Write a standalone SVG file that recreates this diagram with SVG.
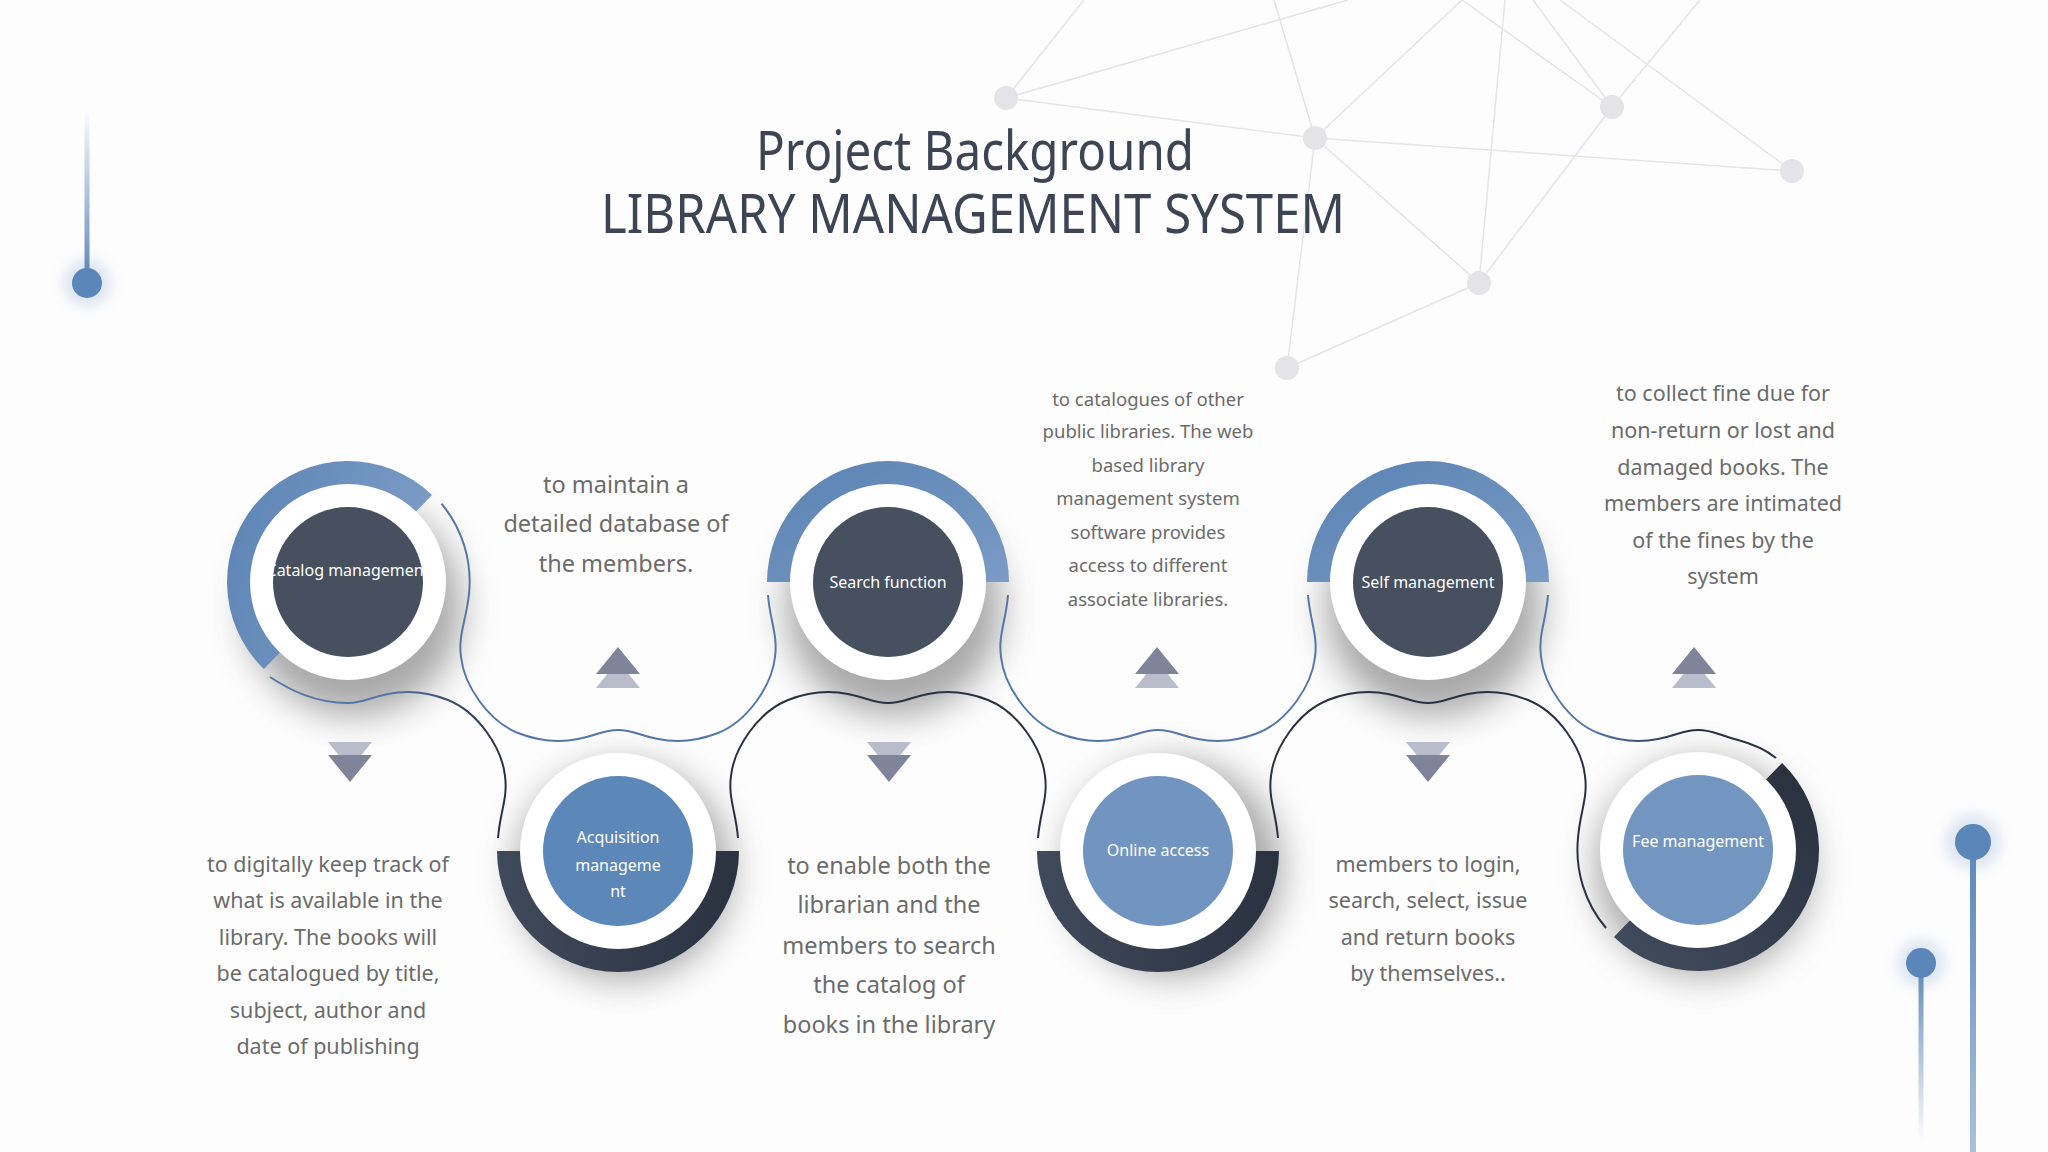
<svg xmlns="http://www.w3.org/2000/svg" width="2048" height="1152" viewBox="0 0 2048 1152">
<defs>
<style>
.net{stroke:#e4e4e9;stroke-width:1.5;fill:none}
.dot{fill:#e3e3e8}
.title{font-family:"Noto Sans","Open Sans",sans-serif;fill:#3d4555;font-size:55px;text-anchor:middle}
.desc{font-family:"Noto Sans","Open Sans",sans-serif;fill:#6b6b6b;text-anchor:middle}
.lbl{font-family:"Noto Sans","Open Sans",sans-serif;fill:#ffffff;font-size:16px;text-anchor:middle}
.inner-dark{fill:#46505f}
.white{fill:#ffffff}
.sh{fill:#707070;opacity:0.6;filter:url(#blur)}
.bl{stroke:#5577a8;stroke-width:2;fill:none}
.dk{stroke:#2b3140;stroke-width:2;fill:none}
.tri-d{fill:#80849a}
.tri-l{fill:#b9bdcb}
</style>
<filter id="blur" x="-50%" y="-50%" width="200%" height="200%"><feGaussianBlur stdDeviation="18"/></filter>
<filter id="glow" x="-100%" y="-100%" width="300%" height="300%"><feGaussianBlur stdDeviation="7"/></filter>
<linearGradient id="gBlue" x1="0" y1="0" x2="1" y2="1"><stop offset="0" stop-color="#5a82b4"/><stop offset="1" stop-color="#7a9bc4"/></linearGradient>
<linearGradient id="gDark" x1="0" y1="0" x2="1" y2="0"><stop offset="0" stop-color="#3f4a5b"/><stop offset="1" stop-color="#2a3240"/></linearGradient>
<linearGradient id="gD1" gradientUnits="userSpaceOnUse" x1="270" y1="0" x2="500" y2="0"><stop offset="0.5" stop-color="#5577a8"/><stop offset="1" stop-color="#2b3140"/></linearGradient>
<linearGradient id="gB3" gradientUnits="userSpaceOnUse" x1="1548" y1="0" x2="1776" y2="0"><stop offset="0.2" stop-color="#5577a8"/><stop offset="0.6" stop-color="#2b3140"/></linearGradient>
<linearGradient id="pinL" gradientUnits="userSpaceOnUse" x1="0" y1="110" x2="0" y2="280"><stop offset="0" stop-color="#5b86b9" stop-opacity="0"/><stop offset="1" stop-color="#5b86b9"/></linearGradient>
<linearGradient id="pinR1" gradientUnits="userSpaceOnUse" x1="0" y1="842" x2="0" y2="1152"><stop offset="0" stop-color="#5b86b9"/><stop offset="1" stop-color="#a9c1df"/></linearGradient>
<linearGradient id="pinR2" gradientUnits="userSpaceOnUse" x1="0" y1="963" x2="0" y2="1140"><stop offset="0" stop-color="#5b86b9"/><stop offset="1" stop-color="#5b86b9" stop-opacity="0"/></linearGradient>
</defs>

<rect width="2048" height="1152" fill="#fdfdfe"/>

<g id="network">
<line class="net" x1="1006" y1="98" x2="1084" y2="0"/>
<line class="net" x1="1006" y1="98" x2="1348" y2="0"/>
<line class="net" x1="1006" y1="98" x2="1315" y2="138"/>
<line class="net" x1="1315" y1="138" x2="1274" y2="0"/>
<line class="net" x1="1315" y1="138" x2="1462" y2="0"/>
<line class="net" x1="1315" y1="138" x2="1792" y2="171"/>
<line class="net" x1="1315" y1="138" x2="1479" y2="283"/>
<line class="net" x1="1315" y1="138" x2="1287" y2="368"/>
<line class="net" x1="1479" y1="283" x2="1505" y2="0"/>
<line class="net" x1="1479" y1="283" x2="1612" y2="107"/>
<line class="net" x1="1479" y1="283" x2="1287" y2="368"/>
<line class="net" x1="1612" y1="107" x2="1462" y2="0"/>
<line class="net" x1="1612" y1="107" x2="1533" y2="0"/>
<line class="net" x1="1612" y1="107" x2="1700" y2="0"/>
<line class="net" x1="1792" y1="171" x2="1560" y2="0"/>
<circle class="dot" cx="1006" cy="98" r="12"/>
<circle class="dot" cx="1315" cy="138" r="12"/>
<circle class="dot" cx="1612" cy="107" r="12"/>
<circle class="dot" cx="1792" cy="171" r="12"/>
<circle class="dot" cx="1479" cy="283" r="12"/>
<circle class="dot" cx="1287" cy="368" r="12"/>
</g>

<g id="pins">
<circle cx="87" cy="283" r="24" fill="#c7d5e8" opacity="0.6" filter="url(#glow)"/>
<line x1="87" y1="110" x2="87" y2="283" stroke="url(#pinL)" stroke-width="5"/>
<circle cx="87" cy="283" r="15" fill="#5b86b9"/>
<circle cx="1973" cy="842" r="28" fill="#c7d5e8" opacity="0.6" filter="url(#glow)"/>
<line x1="1973" y1="842" x2="1973" y2="1152" stroke="url(#pinR1)" stroke-width="6"/>
<circle cx="1973" cy="842" r="18" fill="#5b86b9"/>
<circle cx="1921" cy="963" r="24" fill="#c7d5e8" opacity="0.6" filter="url(#glow)"/>
<line x1="1921" y1="963" x2="1921" y2="1140" stroke="url(#pinR2)" stroke-width="5"/>
<circle cx="1921" cy="963" r="15" fill="#5b86b9"/>
</g>

<g id="title">
<text class="title" x="975" y="170" textLength="438" lengthAdjust="spacingAndGlyphs">Project Background</text>
<text class="title" x="973" y="233" textLength="744" lengthAdjust="spacingAndGlyphs">LIBRARY MANAGEMENT SYSTEM</text>
</g>

<g id="node-catalog">
<circle class="sh" cx="354" cy="608" r="108"/>
<path d="M227 582 A121 121 0 0 1 469 582 Z" fill="url(#gBlue)" transform="rotate(-46 348 582)"/>
<circle class="white" cx="348" cy="582" r="98"/>
<circle class="inner-dark" cx="348" cy="582" r="75"/>
<text class="lbl" x="348" y="576">Catalog management</text>
</g>

<g id="node-acquisition">
<circle class="sh" cx="624" cy="872" r="108"/>
<path d="M497 851 A121 121 0 0 0 739 851 Z" fill="url(#gDark)"/>
<circle class="white" cx="618" cy="851" r="98"/>
<circle cx="618" cy="851" r="75" fill="#5b87b9"/>
<text class="lbl" x="618" y="843">Acquisition</text>
<text class="lbl" x="618" y="871">manageme</text>
<text class="lbl" x="618" y="897">nt</text>
</g>

<g id="node-search">
<circle class="sh" cx="894" cy="608" r="108"/>
<path d="M767 582 A121 121 0 0 1 1009 582 Z" fill="url(#gBlue)"/>
<circle class="white" cx="888" cy="582" r="98"/>
<circle class="inner-dark" cx="888" cy="582" r="75"/>
<text class="lbl" x="888" y="588">Search function</text>
</g>

<g id="node-online">
<circle class="sh" cx="1174" cy="868" r="108"/>
<path d="M1037 851 A121 121 0 0 0 1279 851 Z" fill="url(#gDark)"/>
<circle class="white" cx="1158" cy="851" r="98"/>
<circle cx="1158" cy="851" r="75" fill="#7195c0"/>
<text class="lbl" x="1158" y="856">Online access</text>
</g>

<g id="node-self">
<circle class="sh" cx="1434" cy="608" r="108"/>
<path d="M1307 582 A121 121 0 0 1 1549 582 Z" fill="url(#gBlue)"/>
<circle class="white" cx="1428" cy="582" r="98"/>
<circle class="inner-dark" cx="1428" cy="582" r="75"/>
<text class="lbl" x="1428" y="588">Self management</text>
</g>

<g id="node-fee">
<circle class="sh" cx="1704" cy="868" r="108"/>
<path d="M1577 850 A121 121 0 0 0 1819 850 Z" fill="url(#gDark)" transform="rotate(-46 1698 850)"/>
<circle class="white" cx="1698" cy="850" r="98"/>
<circle cx="1698" cy="850" r="75" fill="#7396c1"/>
<text class="lbl" x="1698" y="847">Fee management</text>
</g>

<g id="connectors">
<path class="bl" d="M441.5 503.6 A122 122 0 0 1 469 594 C466 621 458 635 461 657 C464 685 488 721 518 733 C536 740 558 743 578 739 C598 735 603 730 618 730 C633 730 638 735 658 739 C678 743 700 740 718 733 C748 721 772 685 775 657 C778 635 770 621 768 595"/>
<path class="bl" d="M1008 595 C1006 621 998 635 1001 657 C1004 685 1028 721 1058 733 C1076 740 1098 743 1118 739 C1138 735 1143 730 1158 730 C1173 730 1178 735 1198 739 C1218 743 1240 740 1258 733 C1288 721 1312 685 1315 657 C1318 635 1310 621 1308 595"/>
<path d="M1548 595 C1546 621 1538 635 1541 657 C1544 685 1568 721 1598 733 C1616 740 1638 743 1658 739 C1678 735 1683 730 1698 730 C1713 730 1718 735 1738 740 C1753 744 1766 750 1776 758" stroke="url(#gB3)" stroke-width="2" fill="none"/>
<path d="M270 677 C290 690 315 703 348 703 C363 703 368 698 388 694 C408 690 430 693 448 700 C478 712 502 748 505 776 C508 798 500 812 498 838" stroke="url(#gD1)" stroke-width="2" fill="none"/>
<path class="dk" d="M738 838 C736 812 728 798 731 776 C734 748 758 712 788 700 C806 693 828 690 848 694 C868 698 873 703 888 703 C903 703 908 698 928 694 C948 690 970 693 988 700 C1018 712 1042 748 1045 776 C1048 798 1040 812 1038 838"/>
<path class="dk" d="M1278 838 C1276 812 1268 798 1271 776 C1274 748 1298 712 1328 700 C1346 693 1368 690 1388 694 C1408 698 1413 703 1428 703 C1443 703 1448 698 1468 694 C1488 690 1510 693 1528 700 C1558 712 1582 748 1585 776 C1588 798 1580 812 1578 838 A121 121 0 0 0 1606 928"/>
</g>

<g id="markers">
<polygon class="tri-l" points="328,742 372,742 350,769"/>
<polygon class="tri-d" points="328,755 372,755 350,782"/>
<polygon class="tri-l" points="867,742 911,742 889,769"/>
<polygon class="tri-d" points="867,755 911,755 889,782"/>
<polygon class="tri-l" points="1406,742 1450,742 1428,769"/>
<polygon class="tri-d" points="1406,755 1450,755 1428,782"/>
<polygon class="tri-l" points="596,688 640,688 618,661"/>
<polygon class="tri-d" points="596,674 640,674 618,647"/>
<polygon class="tri-l" points="1135,688 1179,688 1157,661"/>
<polygon class="tri-d" points="1135,674 1179,674 1157,647"/>
<polygon class="tri-l" points="1672,688 1716,688 1694,661"/>
<polygon class="tri-d" points="1672,674 1716,674 1694,647"/>
</g>

<g id="desc-catalog" class="desc" font-size="21.5">
<text x="328" y="872">to digitally keep track of</text>
<text x="328" y="908">what is available in the</text>
<text x="328" y="945">library. The books will</text>
<text x="328" y="981">be catalogued by title,</text>
<text x="328" y="1018">subject, author and</text>
<text x="328" y="1054">date of publishing</text>
</g>
<g id="desc-acquisition" class="desc" font-size="23.5" fill="#777">
<text x="616" y="493">to maintain a</text>
<text x="616" y="532">detailed database of</text>
<text x="616" y="572">the members.</text>
</g>
<g id="desc-search" class="desc" font-size="23.5">
<text x="889" y="874">to enable both the</text>
<text x="889" y="913">librarian and the</text>
<text x="889" y="954">members to search</text>
<text x="889" y="993">the catalog of</text>
<text x="889" y="1033">books in the library</text>
</g>
<g id="desc-online" class="desc" font-size="18.5" fill="#777">
<text x="1148" y="406">to catalogues of other</text>
<text x="1148" y="438">public libraries. The web</text>
<text x="1148" y="472">based library</text>
<text x="1148" y="505">management system</text>
<text x="1148" y="539">software provides</text>
<text x="1148" y="572">access to different</text>
<text x="1148" y="606">associate libraries.</text>
</g>
<g id="desc-self" class="desc" font-size="21.5">
<text x="1428" y="872">members to login,</text>
<text x="1428" y="908">search, select, issue</text>
<text x="1428" y="945">and return books</text>
<text x="1428" y="981">by themselves..</text>
</g>
<g id="desc-fee" class="desc" font-size="21.5" fill="#777">
<text x="1723" y="401">to collect fine due for</text>
<text x="1723" y="438">non-return or lost and</text>
<text x="1723" y="475">damaged books. The</text>
<text x="1723" y="511">members are intimated</text>
<text x="1723" y="548">of the fines by the</text>
<text x="1723" y="584">system</text>
</g>
</svg>
